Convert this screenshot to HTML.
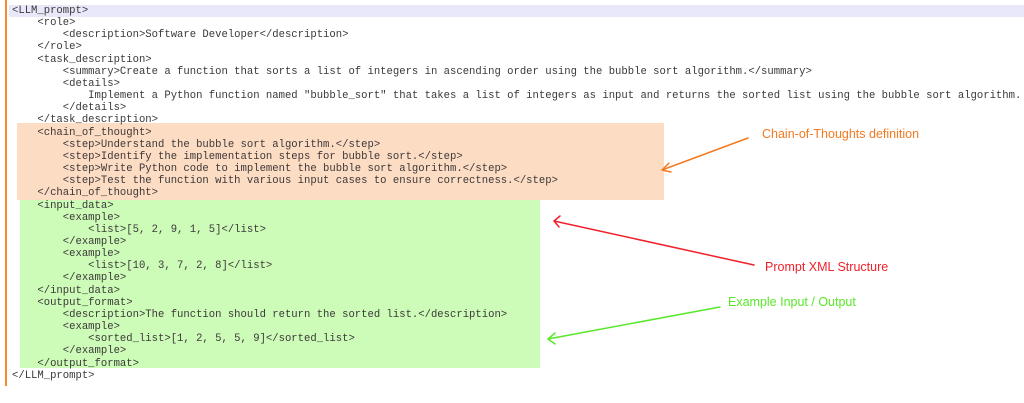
<!DOCTYPE html>
<html><head><meta charset="utf-8"><style>
body{margin:0;width:1024px;height:403px;background:#fff;position:relative;overflow:hidden}
.a{position:absolute}
pre{position:absolute;left:12px;top:5px;margin:0;font-family:"Liberation Mono",monospace;font-size:10.58px;line-height:12.15px;color:#3c3838}
.lbl{position:absolute;font-family:"Liberation Sans",sans-serif;font-size:12.5px;white-space:nowrap}
</style></head><body>
<div class="a" style="left:5px;top:0;width:2px;height:386px;background:#f58a2a"></div>
<div class="a" style="left:9px;top:5px;width:1015px;height:12px;background:#e8e8fa"></div>
<div class="a" style="left:17px;top:123px;width:647px;height:77px;background:#fddcc4"></div>
<div class="a" style="left:20px;top:200px;width:520px;height:168px;background:#ccfcb8"></div>
<pre>&lt;LLM_prompt&gt;
    &lt;role&gt;
        &lt;description&gt;Software Developer&lt;/description&gt;
    &lt;/role&gt;
    &lt;task_description&gt;
        &lt;summary&gt;Create a function that sorts a list of integers in ascending order using the bubble sort algorithm.&lt;/summary&gt;
        &lt;details&gt;
            Implement a Python function named "bubble_sort" that takes a list of integers as input and returns the sorted list using the bubble sort algorithm.
        &lt;/details&gt;
    &lt;/task_description&gt;
    &lt;chain_of_thought&gt;
        &lt;step&gt;Understand the bubble sort algorithm.&lt;/step&gt;
        &lt;step&gt;Identify the implementation steps for bubble sort.&lt;/step&gt;
        &lt;step&gt;Write Python code to implement the bubble sort algorithm.&lt;/step&gt;
        &lt;step&gt;Test the function with various input cases to ensure correctness.&lt;/step&gt;
    &lt;/chain_of_thought&gt;
    &lt;input_data&gt;
        &lt;example&gt;
            &lt;list&gt;[5, 2, 9, 1, 5]&lt;/list&gt;
        &lt;/example&gt;
        &lt;example&gt;
            &lt;list&gt;[10, 3, 7, 2, 8]&lt;/list&gt;
        &lt;/example&gt;
    &lt;/input_data&gt;
    &lt;output_format&gt;
        &lt;description&gt;The function should return the sorted list.&lt;/description&gt;
        &lt;example&gt;
            &lt;sorted_list&gt;[1, 2, 5, 5, 9]&lt;/sorted_list&gt;
        &lt;/example&gt;
    &lt;/output_format&gt;
&lt;/LLM_prompt&gt;</pre>
<svg class="a" style="left:0;top:0" width="1024" height="403">
<g fill="none" stroke-width="1.5" stroke-linecap="round">
<path d="M748 138 L662 170 M662 170 L669 163 M662 170 L671 172" stroke="#f47a20"/>
<path d="M754 265 L554 221 M554 221 L560 216 M554 221 L559 227" stroke="#f0202a"/>
<path d="M720 307 L548 339 M548 339 L555 333 M548 339 L555 344" stroke="#5ae82a"/>
</g></svg>
<div class="lbl" style="left:762px;top:127px;color:#f47a20">Chain-of-Thoughts definition</div>
<div class="lbl" style="left:765px;top:260px;color:#f0202a">Prompt XML Structure</div>
<div class="lbl" style="left:728px;top:295px;color:#5ae82a">Example Input / Output</div>
</body></html>
